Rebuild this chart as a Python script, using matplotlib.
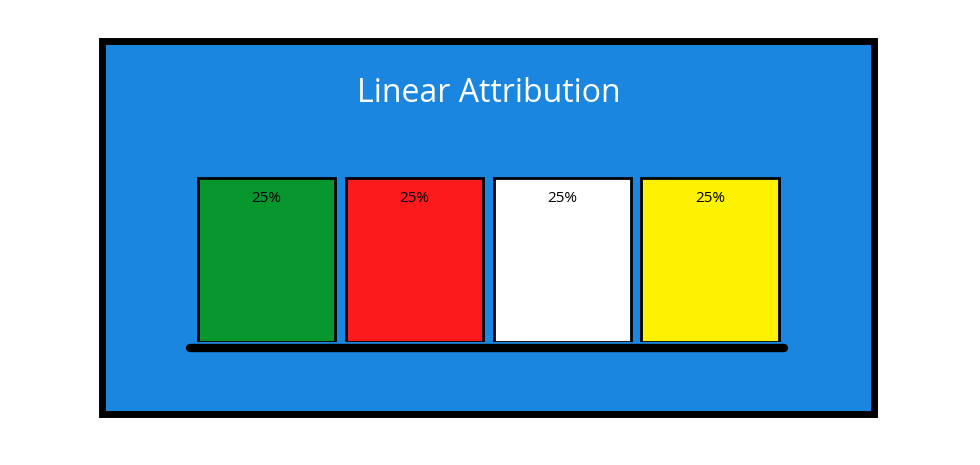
import matplotlib
matplotlib.use("Agg")
import matplotlib.pyplot as plt
from matplotlib.patches import Rectangle

title = "Linear Attribution"
channels = ["A", "B", "C", "D"]
values = [25, 25, 25, 25]
labels = ["25%", "25%", "25%", "25%"]
colors = ["#07962e", "#fd1a1c", "#ffffff", "#fff200"]

plt.rcParams['font.family'] = ['Open Sans', 'DejaVu Sans']
W, H = 980, 465
fig = plt.figure(figsize=(9.8, 4.65), dpi=100)
bg = fig.add_axes([0, 0, 1, 1])
bg.set_xlim(0, W); bg.set_ylim(H, 0); bg.axis('off')
bg.add_patch(Rectangle((102, 41), 772, 373, facecolor="#1a86df", edgecolor="black", linewidth=5))
bg.text(489, 93, title, color="white", fontsize=23, ha="center", va="center")
bg.plot([190, 784], [348, 348], color="black", linewidth=6, solid_capstyle="round", zorder=5)

ax = fig.add_axes([190 / W, (H - 342) / H, 594 / W, 172 / H])
ax.axis('off')
x = range(len(channels))
ax.bar(x, values, width=0.93, color=colors, edgecolor="black", linewidth=2)
ax.set_xlim(-0.518, 3.50)
ax.set_ylim(0, 25 * 172 / 164)
for i, (v, l) in enumerate(zip(values, labels)):
    ax.text(i, v - 3.2, l, ha="center", va="center", fontsize=11, color="black")

fig.savefig("out.png", dpi=100)
